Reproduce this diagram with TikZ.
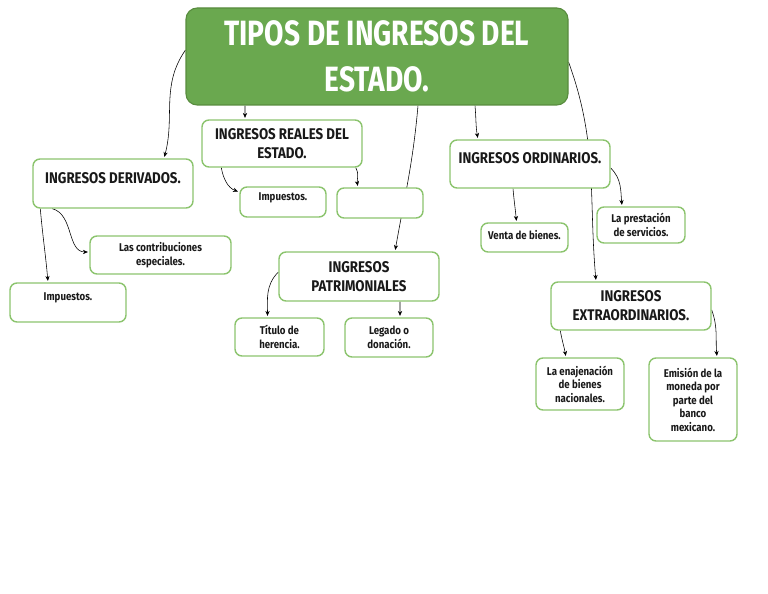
\documentclass[tikz,border=0pt]{standalone}
\usepackage{fontspec}
\setmainfont{Fira Sans}[FakeStretch=0.86]
\newfontfamily\titlefont{Fira Sans}[FakeStretch=0.8]
\usepackage{xcolor}
\usepackage{tikz}
\usetikzlibrary{arrows.meta, backgrounds}
\definecolor{titlegreen}{RGB}{106,168,79}
\definecolor{titleedge}{RGB}{88,140,62}
\definecolor{boxgreen}{RGB}{140,196,110}

\begin{document}
\begin{tikzpicture}[
  box/.style={draw=boxgreen, line width=1pt, fill=white, rounded corners=5pt, align=center, inner sep=0pt, text=black!90},
  head/.style={box, minimum width=4cm, font=\bfseries\fontsize{11}{13.5}\selectfont},
  small/.style={box, font=\bfseries\fontsize{8}{9.6}\selectfont},
  link/.style={->, thin, shorten >=1pt},
  >={Stealth[length=3.5pt,width=3pt]}
]
\useasboundingbox (0,0) rectangle (19.2,-14.85);

\node[draw=titleedge, fill=titlegreen, line width=0.8pt, rounded corners=8pt, minimum width=9.55cm, minimum height=2.425cm, align=center, text=white, font=\titlefont\bfseries\fontsize{25}{33}\selectfont] (title) at (9.425,-1.4125) {TIPOS DE INGRESOS DEL\\ESTADO.};

% primer nivel
\node[head, minimum height=1.175cm] (reales) at (7.05,-3.5875) {INGRESOS REALES DEL\\ESTADO.};
\node[head, minimum height=1.225cm, text depth=7.8pt] (deriv) at (2.825,-4.5875) {INGRESOS DERIVADOS.};
\node[head, minimum height=1.225cm] (patr) at (8.975,-6.9125) {INGRESOS\\PATRIMONIALES};
\node[head, minimum height=1.2cm, text depth=8.5pt] (ordin) at (13.25,-4.1) {INGRESOS ORDINARIOS.};
\node[head, minimum height=1.2cm] (extra) at (15.775,-7.65) {INGRESOS\\EXTRAORDINARIOS.};

% segundo nivel
\node[small, minimum width=3.525cm, minimum height=0.95cm] (contrib) at (4.0125,-6.375) {Las contribuciones\\especiales.};
\node[small, minimum width=2.9cm, minimum height=0.975cm, text depth=8pt] (impL) at (1.7,-7.5625) {Impuestos.};
\node[small, minimum width=2.15cm, minimum height=0.75cm, text depth=7.3pt] (impM) at (7.075,-5.05) {Impuestos.};
\node[small, minimum width=2.15cm, minimum height=0.75cm] (vacio) at (9.5,-5.075) {};
\node[small, minimum width=2.225cm, minimum height=0.95cm] (titulo) at (6.9875,-8.425) {Título de\\herencia.};
\node[small, minimum width=2.2cm, minimum height=0.975cm] (legado) at (9.725,-8.4375) {Legado o\\donación.};
\node[small, minimum width=2.175cm, minimum height=0.725cm, text depth=3.5pt] (venta) at (13.1125,-5.9375) {Venta de bienes.};
\node[small, minimum width=2.2cm, minimum height=0.9cm] (prest) at (16.025,-5.625) {La prestación\\de servicios.};
\node[small, minimum width=2.2cm, minimum height=1.3cm] (enaj) at (14.5,-9.6) {La enajenación\\de bienes\\nacionales.};
\node[small, minimum width=2.2cm, minimum height=2.075cm] (emision) at (17.325,-9.9875) {Emisión de la\\moneda por\\parte del\\banco\\mexicano.};

\begin{scope}[on background layer]
% desde el titulo
\draw[link] ([yshift=0.16cm]title.west) to[out=235,in=75] ([xshift=1.275cm]deriv.north);
\draw[link] ([xshift=-3.3cm]title.south) -- ([xshift=-0.925cm]reales.north);
\draw[link] ([xshift=1.025cm]title.south) to[out=265,in=80] ([xshift=0.9cm]patr.north);
\draw[link] ([xshift=2.45cm]title.south) to[out=275,in=100] ([xshift=-1.3cm]ordin.north);
\draw[link] ([yshift=-0.14cm]title.east) to[out=-70,in=95] ([xshift=-0.875cm]extra.north);

% ramas
\draw[link] ([xshift=0.2cm]deriv.south west) to[out=-85,in=95] ([xshift=-0.5cm]impL.north);
\draw[link] ([xshift=0.5cm]deriv.south west) to[out=-15,in=180] ([yshift=0.075cm]contrib.west);
\draw[link] ([xshift=0.5cm]reales.south west) to[out=-80,in=160] ([yshift=0.25cm]impM.west);
\draw[link] ([xshift=-0.175cm]reales.south east) to[out=-60,in=100] ([xshift=-0.55cm]vacio.north);
\draw[link] ([yshift=0.11cm]patr.west) to[out=225,in=90] ([xshift=-0.3cm]titulo.north);
\draw[link] ([xshift=1.025cm]patr.south) -- ([xshift=0.275cm]legado.north);
\draw[link] ([xshift=-0.425cm]ordin.south) to[out=-85,in=95] ([xshift=-0.2cm]venta.north);
\draw[link] ([yshift=-0.1cm]ordin.east) to[out=-45,in=95] ([xshift=-0.475cm]prest.north);
\draw[link] ([xshift=0.25cm]extra.south west) to[out=-80,in=100] ([xshift=-0.35cm]enaj.north);
\draw[link] ([yshift=-0.1cm]extra.east) to[out=-70,in=95] ([xshift=0.6cm]emision.north);
\end{scope}
\end{tikzpicture}
\end{document}
